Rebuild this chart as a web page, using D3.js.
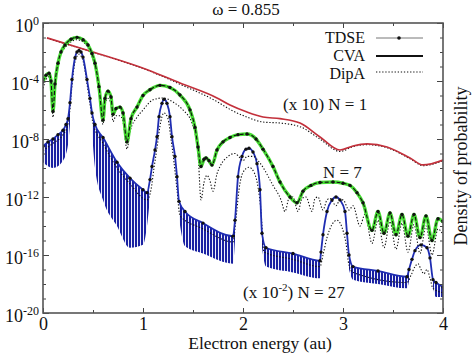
<!DOCTYPE html>
<html>
<head>
<meta charset="utf-8">
<script src="https://cdn.jsdelivr.net/npm/d3@7"></script>
<style>
  body { margin: 0; background: #fff; }
  svg { display: block; }
  svg text { font-family: "Liberation Serif", "Times New Roman", Times, serif; }
</style>
</head>
<body>
<div id="chart"></div>
<script>
// [electron energy (au), log10 density of probability]
const redN1 = [[0.04,-1.03],[0.5,-2.0],[1.05,-3.24],[1.37,-4.14],[1.74,-5.17],[1.87,-5.66],[2.04,-6.14],[2.2,-6.48],[2.37,-6.6],[2.57,-6.9],[2.77,-7.86],[2.97,-8.76],[3.1,-8.48],[3.24,-8.34],[3.44,-8.55],[3.67,-9.31],[3.8,-9.79],[4.0,-9.45]];
const dipN1 = [[0.04,-1.05],[0.5,-2.02],[1.05,-3.27],[1.37,-4.22],[1.74,-5.42],[1.87,-5.96],[2.04,-6.49],[2.2,-6.83],[2.37,-6.9],[2.57,-7.15],[2.77,-8.01],[2.97,-8.86],[3.1,-8.53],[3.24,-8.39],[3.44,-8.6],[3.67,-9.36],[3.8,-9.84],[4.0,-9.5]];

const greenN7 = [[0.00,-4.05],[0.03,-3.6],[0.06,-3.47],[0.08,-4.0],[0.10,-6.1],[0.12,-4.2],[0.15,-2.77],[0.18,-2.0],[0.22,-1.52],[0.28,-1.12],[0.34,-0.99],[0.40,-1.15],[0.45,-1.52],[0.49,-2.1],[0.52,-2.78],[0.56,-4.4],[0.60,-6.7],[0.62,-5.2],[0.65,-4.7],[0.68,-5.1],[0.70,-6.3],[0.73,-5.9],[0.77,-5.8],[0.80,-6.2],[0.84,-8.2],[0.88,-6.6],[0.94,-5.8],[1.0,-5.0],[1.07,-4.6],[1.17,-4.3],[1.27,-4.45],[1.37,-4.97],[1.47,-6.0],[1.52,-7.2],[1.55,-8.55],[1.58,-9.9],[1.61,-9.4],[1.63,-9.3],[1.66,-9.5],[1.69,-9.8],[1.74,-8.76],[1.8,-8.2],[1.87,-7.9],[1.95,-7.7],[2.04,-7.66],[2.13,-8.0],[2.2,-8.7],[2.3,-9.9],[2.37,-10.97],[2.47,-12.0],[2.54,-12.4],[2.6,-11.6],[2.68,-11.2],[2.77,-11.0],[2.9,-10.97],[3.0,-11.05],[3.07,-11.2],[3.14,-11.7],[3.2,-12.4],[3.29,-14.3],[3.35,-13.0],[3.41,-14.5],[3.47,-13.1],[3.53,-14.6],[3.59,-13.2],[3.65,-14.7],[3.71,-13.2],[3.77,-14.8],[3.83,-13.3],[3.89,-15.0],[3.95,-13.5],[4.0,-13.7]];
const dipN7 = [[0.00,-4.5],[0.03,-3.9],[0.06,-3.7],[0.08,-4.3],[0.10,-6.5],[0.12,-4.5],[0.15,-3.0],[0.18,-2.2],[0.22,-1.7],[0.28,-1.3],[0.34,-1.15],[0.40,-1.3],[0.45,-1.7],[0.49,-2.3],[0.52,-3.0],[0.56,-4.8],[0.60,-7.0],[0.62,-5.6],[0.65,-5.2],[0.68,-5.6],[0.70,-6.8],[0.73,-6.4],[0.77,-6.4],[0.80,-6.8],[0.84,-8.7],[0.87,-7.5],[0.94,-6.5],[1.0,-6.0],[1.1,-5.3],[1.2,-5.17],[1.3,-5.45],[1.4,-6.0],[1.49,-6.9],[1.55,-9.0],[1.58,-12.2],[1.61,-11.0],[1.64,-10.5],[1.67,-10.9],[1.70,-11.6],[1.74,-10.4],[1.77,-9.9],[1.85,-9.2],[1.92,-9.0],[1.97,-9.3],[2.0,-9.5],[2.04,-9.2],[2.1,-9.2],[2.17,-9.66],[2.3,-11.2],[2.38,-12.2],[2.42,-13.0],[2.46,-12.1],[2.5,-12.0],[2.55,-13.0],[2.59,-12.1],[2.63,-12.0],[2.69,-13.0],[2.72,-12.1],[2.75,-12.0],[2.8,-12.9],[2.84,-12.2],[2.87,-12.1],[2.93,-12.6],[2.97,-12.2],[3.0,-12.2],[3.06,-12.9],[3.1,-12.6],[3.17,-14.0],[3.22,-13.2],[3.29,-15.2],[3.35,-13.6],[3.41,-15.5],[3.47,-13.7],[3.53,-15.6],[3.59,-13.8],[3.65,-15.8],[3.71,-13.9],[3.77,-15.9],[3.83,-14.0],[3.89,-16.0],[3.95,-14.2],[4.0,-14.6]];

const blueN27 = [[0.00,-8.5],[0.05,-8.2],[0.10,-8.0],[0.15,-7.7],[0.20,-7.4],[0.23,-7.0],[0.25,-6.6],[0.27,-5.5],[0.29,-3.9],[0.32,-2.4],[0.34,-2.0],[0.36,-1.9],[0.38,-2.0],[0.40,-2.35],[0.44,-3.9],[0.47,-5.2],[0.49,-6.2],[0.52,-7.0],[0.6,-7.9],[0.74,-9.6],[0.87,-10.7],[1.0,-11.5],[1.04,-11.7],[1.07,-10.8],[1.09,-9.9],[1.12,-8.76],[1.14,-7.84],[1.16,-6.46],[1.19,-5.54],[1.21,-5.26],[1.24,-5.54],[1.27,-6.46],[1.29,-7.84],[1.32,-9.2],[1.34,-10.6],[1.36,-12.3],[1.42,-13.0],[1.6,-13.8],[1.9,-14.7],[1.92,-13.6],[1.95,-10.6],[1.99,-9.2],[2.03,-8.7],[2.06,-8.64],[2.1,-8.9],[2.14,-9.7],[2.17,-11.5],[2.19,-14.5],[2.23,-15.5],[2.5,-15.9],[2.77,-16.4],[2.78,-15.8],[2.8,-14.6],[2.84,-13.0],[2.89,-12.2],[2.93,-12.0],[2.97,-12.2],[3.02,-13.0],[3.04,-14.5],[3.06,-16.0],[3.1,-16.8],[3.35,-17.1],[3.64,-17.5],[3.66,-17.0],[3.69,-16.3],[3.72,-15.7],[3.78,-15.3],[3.84,-15.5],[3.87,-16.2],[3.9,-17.7],[3.93,-17.9],[4.0,-18.2]];
const dipN27 = [[0.00,-8.8],[0.1,-8.3],[0.2,-7.7],[0.25,-7.0],[0.27,-5.9],[0.29,-4.3],[0.32,-2.7],[0.36,-2.15],[0.40,-2.6],[0.44,-4.2],[0.47,-5.6],[0.50,-6.9],[0.6,-8.3],[0.74,-10.0],[0.87,-11.1],[1.04,-12.2],[1.08,-11.5],[1.11,-10.0],[1.14,-8.6],[1.17,-7.1],[1.21,-6.2],[1.25,-6.6],[1.28,-8.0],[1.31,-9.6],[1.34,-11.5],[1.37,-13.3],[1.6,-14.2],[1.9,-15.1],[1.93,-13.5],[1.96,-11.5],[2.0,-10.3],[2.06,-9.95],[2.11,-10.3],[2.15,-11.3],[2.18,-13.0],[2.21,-15.8],[2.5,-16.3],[2.77,-16.8],[2.8,-16.0],[2.84,-14.8],[2.89,-13.9],[2.94,-13.6],[2.99,-14.1],[3.03,-15.2],[3.06,-16.7],[3.1,-17.2],[3.64,-17.9],[3.68,-17.4],[3.72,-16.8],[3.75,-16.6],[3.78,-17.0],[3.81,-17.3],[3.84,-17.0],[3.87,-17.6],[3.9,-18.3],[4.0,-18.6]];

// fast fringes of the N = 27 curve: [energy, top, bottom]
const fringeBands = [
  [[0.0,-8.5,-9.6],[0.1,-8.0,-10.0],[0.2,-7.4,-9.5],[0.25,-6.6,-8.4],[0.27,-5.5,-7.0]],
  [[0.49,-6.2,-7.5],[0.52,-7.0,-10.0],[0.6,-7.9,-12.2],[0.74,-9.6,-14.0],[0.87,-10.7,-15.5],[1.0,-11.5,-15.3],[1.04,-11.7,-14.0],[1.07,-10.8,-12.0]],
  [[1.36,-12.3,-13.5],[1.42,-13.0,-15.4],[1.6,-13.8,-15.9],[1.9,-14.7,-16.6],[1.92,-13.6,-15.0]],
  [[2.19,-14.5,-15.5],[2.23,-15.5,-16.8],[2.5,-15.9,-17.2],[2.77,-16.4,-17.6],[2.78,-15.8,-16.5]],
  [[3.06,-16.0,-17.0],[3.1,-16.8,-17.7],[3.35,-17.1,-18.0],[3.64,-17.5,-18.3],[3.66,-17.0,-17.8]],
  [[3.9,-17.7,-18.2],[3.93,-17.9,-18.9],[4.0,-18.2,-18.9]]
];

const xMajor = [0, 1, 2, 3, 4];
const xMinor = [0.5, 1.5, 2.5, 3.5];
const yMajorExp = [0, -4, -8, -12, -16, -20];
const yDecadeExp = d3.range(-20, 1);

const width = 474, height = 353;
const P = v => Math.pow(10, v);

const x = d3.scaleLinear().domain([0, 4]).range([43, 443]);
const y = d3.scaleLog().domain([1e-20, 1]).range([313, 23]);

const svg = d3.select('#chart').append('svg')
  .attr('width', width).attr('height', height);

const defs = svg.append('defs');
defs.append('clipPath').attr('id', 'plot')
  .append('rect').attr('x', 43).attr('y', 23).attr('width', 400).attr('height', 290);
const pat = defs.append('pattern').attr('id', 'fringe')
  .attr('patternUnits', 'userSpaceOnUse').attr('width', 3).attr('height', 10);
pat.append('rect').attr('width', 3).attr('height', 10).attr('fill', '#eef0fb');
pat.append('rect').attr('width', 2).attr('height', 10).attr('fill', '#1a21a2');

const line = d3.line()
  .x(d => x(d[0]))
  .y(d => y(P(d[1])))
  .curve(d3.curveMonotoneX);

const plot = svg.append('g').attr('clip-path', 'url(#plot)');

// N = 1 (x 10)
plot.append('path').datum(dipN1).attr('d', line)
  .attr('fill', 'none').attr('stroke', '#111').attr('stroke-width', 1.1).attr('stroke-dasharray', '1.3,1.8');
plot.append('path').datum(redN1).attr('d', line)
  .attr('fill', 'none').attr('stroke', '#c3303b').attr('stroke-width', 1.7);

// N = 27 (x 10^-2)
const band = d3.area()
  .x(d => x(d[0]))
  .y0(d => y(P(d[2])))
  .y1(d => y(P(d[1])))
  .curve(d3.curveMonotoneX);
plot.selectAll('.fringe').data(fringeBands).enter().append('path')
  .attr('class', 'fringe').attr('d', band).attr('fill', 'url(#fringe)');
plot.append('path').datum(dipN27).attr('d', line)
  .attr('fill', 'none').attr('stroke', '#111').attr('stroke-width', 1.1).attr('stroke-dasharray', '1.3,1.8');
plot.append('path').datum(blueN27).attr('d', line)
  .attr('fill', 'none').attr('stroke', '#1f2db2').attr('stroke-width', 1.8);
plot.selectAll('.dot27').data(blueN27).enter().append('circle')
  .attr('class', 'dot27')
  .attr('cx', d => x(d[0])).attr('cy', d => y(P(d[1]))).attr('r', 1.7).attr('fill', '#111');

// N = 7
plot.append('path').datum(dipN7).attr('d', line)
  .attr('fill', 'none').attr('stroke', '#111').attr('stroke-width', 1.1).attr('stroke-dasharray', '1.3,1.8');
plot.append('path').datum(greenN7).attr('d', line)
  .attr('fill', 'none').attr('stroke', '#45dc32').attr('stroke-width', 3.4);
plot.append('path').datum(greenN7).attr('d', line)
  .attr('fill', 'none').attr('stroke', '#111').attr('stroke-width', 1.1).attr('stroke-dasharray', '4,2');
plot.selectAll('.dot7').data(greenN7).enter().append('circle')
  .attr('class', 'dot7')
  .attr('cx', d => x(d[0])).attr('cy', d => y(P(d[1]))).attr('r', 1.7).attr('fill', '#111');

// Axes, ticks pointing inward
const tickStyle = g => {
  g.attr('font-family', null);
  g.select('.domain').remove();
  g.selectAll('.tick line').attr('stroke', '#444');
};
svg.append('g').attr('transform', 'translate(0,313)')
  .call(d3.axisBottom(x).tickValues(xMajor).tickSizeInner(-5).tickSizeOuter(0).tickPadding(4).tickFormat(d3.format('d')))
  .call(tickStyle)
  .call(g => g.selectAll('text').attr('font-size', 18).attr('fill', '#111'));
svg.append('g').attr('transform', 'translate(0,313)')
  .call(d3.axisBottom(x).tickValues(xMinor).tickSize(-3).tickFormat(''))
  .call(tickStyle);
svg.append('g').attr('transform', 'translate(0,23)')
  .call(d3.axisTop(x).tickValues(xMajor).tickSize(-5).tickFormat(''))
  .call(tickStyle);
svg.append('g').attr('transform', 'translate(0,23)')
  .call(d3.axisTop(x).tickValues(xMinor).tickSize(-3).tickFormat(''))
  .call(tickStyle);

svg.append('g').attr('transform', 'translate(43,0)')
  .call(d3.axisLeft(y).tickValues(yMajorExp.map(P)).tickSize(-6).tickFormat(''))
  .call(tickStyle);
svg.append('g').attr('transform', 'translate(43,0)')
  .call(d3.axisLeft(y).tickValues(yDecadeExp.map(P)).tickSize(-3).tickFormat(''))
  .call(tickStyle);
svg.append('g').attr('transform', 'translate(443,0)')
  .call(d3.axisRight(y).tickValues(yMajorExp.map(P)).tickSize(-6).tickFormat(''))
  .call(tickStyle);
svg.append('g').attr('transform', 'translate(443,0)')
  .call(d3.axisRight(y).tickValues(yDecadeExp.map(P)).tickSize(-3).tickFormat(''))
  .call(tickStyle);

// y tick labels 10^n
yMajorExp.forEach(e => {
  const t = svg.append('text')
    .attr('x', 39).attr('y', y(P(e)) + 9)
    .attr('text-anchor', 'end').attr('font-size', 18).attr('fill', '#111');
  t.append('tspan').text('10');
  t.append('tspan').attr('font-size', 12).attr('dy', -7).text(e === 0 ? '0' : '-' + (-e));
});

svg.append('rect')
  .attr('x', 43).attr('y', 23).attr('width', 400).attr('height', 290)
  .attr('fill', 'none').attr('stroke', '#555').attr('stroke-width', 1.6);

// Titles and labels
svg.append('text').attr('x', 246).attr('y', 15).attr('text-anchor', 'middle')
  .attr('font-size', 17).attr('fill', '#111').text('ω = 0.855');
svg.append('text').attr('x', 260).attr('y', 349).attr('text-anchor', 'middle')
  .attr('font-size', 17.5).attr('fill', '#111').text('Electron energy (au)');
svg.append('text').attr('transform', 'translate(467,166) rotate(-90)').attr('text-anchor', 'middle')
  .attr('font-size', 18).attr('fill', '#111').text('Density of probability');

// Curve annotations
svg.append('text').attr('x', 283).attr('y', 110).attr('font-size', 17).attr('fill', '#111').text('(x 10) N = 1');
svg.append('text').attr('x', 323).attr('y', 178).attr('font-size', 17).attr('fill', '#111').text('N = 7');
const a27 = svg.append('text').attr('x', 243).attr('y', 298).attr('font-size', 17).attr('fill', '#111');
a27.append('tspan').text('(x 10');
a27.append('tspan').attr('font-size', 11).attr('dy', -7).text('-2');
a27.append('tspan').attr('dy', 7).text(') N = 27');

// Legend
const legend = [
  { label: 'TDSE', y: 38, ty: 43, stroke: '#777', width: 1, dash: null, dot: true },
  { label: 'CVA', y: 56, ty: 61, stroke: '#111', width: 2.2, dash: null, dot: false },
  { label: 'DipA', y: 72, ty: 79, stroke: '#111', width: 1.1, dash: '1.3,1.8', dot: false }
];
const lg = svg.append('g');
legend.forEach(d => {
  lg.append('text').attr('x', 365).attr('y', d.ty).attr('text-anchor', 'end')
    .attr('font-size', 16).attr('fill', '#111').text(d.label);
  lg.append('line').attr('x1', 376).attr('x2', 423).attr('y1', d.y).attr('y2', d.y)
    .attr('stroke', d.stroke).attr('stroke-width', d.width).attr('stroke-dasharray', d.dash);
  if (d.dot) lg.append('circle').attr('cx', 399).attr('cy', d.y).attr('r', 1.8).attr('fill', '#111');
});
</script>
</body>
</html>
